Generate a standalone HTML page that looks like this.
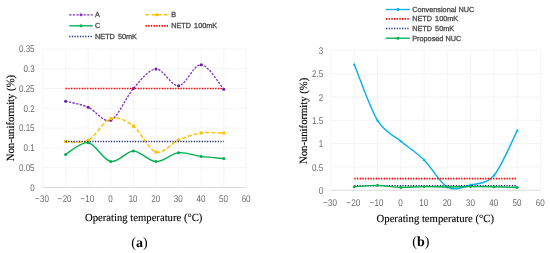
<!DOCTYPE html><html><head><meta charset="utf-8"><style>html,body{margin:0;padding:0;background:#fff;width:550px;height:253px;overflow:hidden}svg{display:block;text-rendering:geometricPrecision}.tk{font-family:"Liberation Sans",sans-serif;font-size:9.8px;fill:#6A6A6A;stroke:#6A6A6A;stroke-width:0px}.lg{font-family:"Liberation Sans",sans-serif;font-size:7.3px;fill:#4a4a4a;stroke:#4a4a4a;stroke-width:0.3px}.ax{font-family:"Liberation Serif",serif;font-size:11px;fill:#000;stroke:#000;stroke-width:0.12px}.yl{font-size:11px;stroke:#000;stroke-width:0.15px}.cap{font-family:"Liberation Serif",serif;font-size:14px;fill:#000}</style></head><body>
<svg width="550" height="253" viewBox="0 0 550 253">
<rect width="550" height="253" fill="#fff"/>
<line x1="43.00" y1="48.90" x2="43.00" y2="187.50" stroke="#F5F5F5" stroke-width="1"/>
<line x1="65.60" y1="48.90" x2="65.60" y2="187.50" stroke="#F5F5F5" stroke-width="1"/>
<line x1="88.20" y1="48.90" x2="88.20" y2="187.50" stroke="#F5F5F5" stroke-width="1"/>
<line x1="110.80" y1="48.90" x2="110.80" y2="187.50" stroke="#F5F5F5" stroke-width="1"/>
<line x1="133.40" y1="48.90" x2="133.40" y2="187.50" stroke="#F5F5F5" stroke-width="1"/>
<line x1="156.00" y1="48.90" x2="156.00" y2="187.50" stroke="#F5F5F5" stroke-width="1"/>
<line x1="178.60" y1="48.90" x2="178.60" y2="187.50" stroke="#F5F5F5" stroke-width="1"/>
<line x1="201.20" y1="48.90" x2="201.20" y2="187.50" stroke="#F5F5F5" stroke-width="1"/>
<line x1="223.80" y1="48.90" x2="223.80" y2="187.50" stroke="#F5F5F5" stroke-width="1"/>
<line x1="246.40" y1="48.90" x2="246.40" y2="187.50" stroke="#F5F5F5" stroke-width="1"/>
<line x1="43.00" y1="167.70" x2="246.40" y2="167.70" stroke="#F5F5F5" stroke-width="1"/>
<line x1="43.00" y1="147.90" x2="246.40" y2="147.90" stroke="#F5F5F5" stroke-width="1"/>
<line x1="43.00" y1="128.10" x2="246.40" y2="128.10" stroke="#F5F5F5" stroke-width="1"/>
<line x1="43.00" y1="108.30" x2="246.40" y2="108.30" stroke="#F5F5F5" stroke-width="1"/>
<line x1="43.00" y1="88.50" x2="246.40" y2="88.50" stroke="#F5F5F5" stroke-width="1"/>
<line x1="43.00" y1="68.70" x2="246.40" y2="68.70" stroke="#F5F5F5" stroke-width="1"/>
<line x1="43.00" y1="48.90" x2="246.40" y2="48.90" stroke="#F5F5F5" stroke-width="1"/>
<line x1="43.00" y1="187.50" x2="246.40" y2="187.50" stroke="#DCDCDC" stroke-width="1"/>
<text class="tk" transform="translate(34.60,190.70) scale(0.82,1)" text-anchor="end">0</text>
<text class="tk" transform="translate(34.60,170.90) scale(0.82,1)" text-anchor="end">0.05</text>
<text class="tk" transform="translate(34.60,151.10) scale(0.82,1)" text-anchor="end">0.1</text>
<text class="tk" transform="translate(34.60,131.30) scale(0.82,1)" text-anchor="end">0.15</text>
<text class="tk" transform="translate(34.60,111.50) scale(0.82,1)" text-anchor="end">0.2</text>
<text class="tk" transform="translate(34.60,91.70) scale(0.82,1)" text-anchor="end">0.25</text>
<text class="tk" transform="translate(34.60,71.90) scale(0.82,1)" text-anchor="end">0.3</text>
<text class="tk" transform="translate(34.60,52.10) scale(0.82,1)" text-anchor="end">0.35</text>
<text class="tk" transform="translate(42.00,202.10) scale(0.82,1)" text-anchor="middle">−<tspan dx="0.4">30</tspan></text>
<text class="tk" transform="translate(64.60,202.10) scale(0.82,1)" text-anchor="middle">−<tspan dx="0.4">20</tspan></text>
<text class="tk" transform="translate(87.20,202.10) scale(0.82,1)" text-anchor="middle">−<tspan dx="0.4">10</tspan></text>
<text class="tk" transform="translate(110.50,202.10) scale(0.82,1)" text-anchor="middle">0</text>
<text class="tk" transform="translate(133.10,202.10) scale(0.82,1)" text-anchor="middle">10</text>
<text class="tk" transform="translate(155.70,202.10) scale(0.82,1)" text-anchor="middle">20</text>
<text class="tk" transform="translate(178.30,202.10) scale(0.82,1)" text-anchor="middle">30</text>
<text class="tk" transform="translate(200.90,202.10) scale(0.82,1)" text-anchor="middle">40</text>
<text class="tk" transform="translate(223.50,202.10) scale(0.82,1)" text-anchor="middle">50</text>
<text class="tk" transform="translate(246.10,202.10) scale(0.82,1)" text-anchor="middle">60</text>
<line x1="331.00" y1="50.29" x2="331.00" y2="190.30" stroke="#F5F5F5" stroke-width="1"/>
<line x1="354.28" y1="50.29" x2="354.28" y2="190.30" stroke="#F5F5F5" stroke-width="1"/>
<line x1="377.56" y1="50.29" x2="377.56" y2="190.30" stroke="#F5F5F5" stroke-width="1"/>
<line x1="400.84" y1="50.29" x2="400.84" y2="190.30" stroke="#F5F5F5" stroke-width="1"/>
<line x1="424.12" y1="50.29" x2="424.12" y2="190.30" stroke="#F5F5F5" stroke-width="1"/>
<line x1="447.40" y1="50.29" x2="447.40" y2="190.30" stroke="#F5F5F5" stroke-width="1"/>
<line x1="470.68" y1="50.29" x2="470.68" y2="190.30" stroke="#F5F5F5" stroke-width="1"/>
<line x1="493.96" y1="50.29" x2="493.96" y2="190.30" stroke="#F5F5F5" stroke-width="1"/>
<line x1="517.24" y1="50.29" x2="517.24" y2="190.30" stroke="#F5F5F5" stroke-width="1"/>
<line x1="540.52" y1="50.29" x2="540.52" y2="190.30" stroke="#F5F5F5" stroke-width="1"/>
<line x1="331.00" y1="166.97" x2="540.52" y2="166.97" stroke="#F5F5F5" stroke-width="1"/>
<line x1="331.00" y1="143.63" x2="540.52" y2="143.63" stroke="#F5F5F5" stroke-width="1"/>
<line x1="331.00" y1="120.30" x2="540.52" y2="120.30" stroke="#F5F5F5" stroke-width="1"/>
<line x1="331.00" y1="96.96" x2="540.52" y2="96.96" stroke="#F5F5F5" stroke-width="1"/>
<line x1="331.00" y1="73.62" x2="540.52" y2="73.62" stroke="#F5F5F5" stroke-width="1"/>
<line x1="331.00" y1="50.29" x2="540.52" y2="50.29" stroke="#F5F5F5" stroke-width="1"/>
<line x1="331.00" y1="190.30" x2="540.52" y2="190.30" stroke="#DCDCDC" stroke-width="1"/>
<text class="tk" transform="translate(323.20,193.90) scale(0.82,1)" text-anchor="end">0</text>
<text class="tk" transform="translate(323.20,170.56) scale(0.82,1)" text-anchor="end">0.5</text>
<text class="tk" transform="translate(323.20,147.23) scale(0.82,1)" text-anchor="end">1</text>
<text class="tk" transform="translate(323.20,123.90) scale(0.82,1)" text-anchor="end">1.5</text>
<text class="tk" transform="translate(323.20,100.56) scale(0.82,1)" text-anchor="end">2</text>
<text class="tk" transform="translate(323.20,77.23) scale(0.82,1)" text-anchor="end">2.5</text>
<text class="tk" transform="translate(323.20,53.89) scale(0.82,1)" text-anchor="end">3</text>
<text class="tk" transform="translate(330.00,206.30) scale(0.82,1)" text-anchor="middle">−<tspan dx="0.4">30</tspan></text>
<text class="tk" transform="translate(353.28,206.30) scale(0.82,1)" text-anchor="middle">−<tspan dx="0.4">20</tspan></text>
<text class="tk" transform="translate(376.56,206.30) scale(0.82,1)" text-anchor="middle">−<tspan dx="0.4">10</tspan></text>
<text class="tk" transform="translate(400.54,206.30) scale(0.82,1)" text-anchor="middle">0</text>
<text class="tk" transform="translate(423.82,206.30) scale(0.82,1)" text-anchor="middle">10</text>
<text class="tk" transform="translate(447.10,206.30) scale(0.82,1)" text-anchor="middle">20</text>
<text class="tk" transform="translate(470.38,206.30) scale(0.82,1)" text-anchor="middle">30</text>
<text class="tk" transform="translate(493.66,206.30) scale(0.82,1)" text-anchor="middle">40</text>
<text class="tk" transform="translate(516.94,206.30) scale(0.82,1)" text-anchor="middle">50</text>
<text class="tk" transform="translate(540.22,206.30) scale(0.82,1)" text-anchor="middle">60</text>
<path d="M65.60 101.17 C69.37 102.19 80.67 104.14 88.20 107.31 C95.73 110.48 103.27 123.31 110.80 120.18 C118.33 117.04 125.87 97.01 133.40 88.50 C140.93 79.99 148.47 69.56 156.00 69.10 C163.53 68.63 171.07 86.45 178.60 85.73 C186.13 85.00 193.67 64.15 201.20 64.74 C208.73 65.33 220.03 85.20 223.80 89.29" fill="none" stroke="#8236C6" stroke-width="1.35" stroke-linejoin="round" stroke-dasharray="2.3 1.3"/>
<circle cx="65.60" cy="101.17" r="1.50" fill="#6A1CA6"/>
<circle cx="88.20" cy="107.31" r="1.50" fill="#6A1CA6"/>
<circle cx="110.80" cy="120.18" r="1.50" fill="#6A1CA6"/>
<circle cx="133.40" cy="88.50" r="1.50" fill="#6A1CA6"/>
<circle cx="156.00" cy="69.10" r="1.50" fill="#6A1CA6"/>
<circle cx="178.60" cy="85.73" r="1.50" fill="#6A1CA6"/>
<circle cx="201.20" cy="64.74" r="1.50" fill="#6A1CA6"/>
<circle cx="223.80" cy="89.29" r="1.50" fill="#6A1CA6"/>
<path d="M65.60 141.56 C69.37 141.33 80.67 144.01 88.20 140.18 C95.73 136.35 103.27 120.94 110.80 118.60 C118.33 116.25 125.87 120.55 133.40 126.12 C140.93 131.69 148.47 149.71 156.00 152.02 C163.53 154.33 171.07 143.15 178.60 139.98 C186.13 136.81 193.67 134.17 201.20 133.01 C208.73 131.85 220.03 133.01 223.80 133.01" fill="none" stroke="#FFC000" stroke-width="1.45" stroke-linejoin="round" stroke-dasharray="4 2"/>
<rect x="64.10" y="140.06" width="3.00" height="3.00" fill="#FFC000"/>
<rect x="86.70" y="138.68" width="3.00" height="3.00" fill="#FFC000"/>
<rect x="109.30" y="117.10" width="3.00" height="3.00" fill="#FFC000"/>
<rect x="131.90" y="124.62" width="3.00" height="3.00" fill="#FFC000"/>
<rect x="154.50" y="150.52" width="3.00" height="3.00" fill="#FFC000"/>
<rect x="177.10" y="138.48" width="3.00" height="3.00" fill="#FFC000"/>
<rect x="199.70" y="131.51" width="3.00" height="3.00" fill="#FFC000"/>
<rect x="222.30" y="131.51" width="3.00" height="3.00" fill="#FFC000"/>
<path d="M65.60 154.39 C69.37 152.45 80.67 141.55 88.20 142.75 C95.73 143.95 103.27 160.22 110.80 161.60 C118.33 162.99 125.87 151.07 133.40 151.07 C140.93 151.07 148.47 161.34 156.00 161.60 C163.53 161.87 171.07 153.52 178.60 152.65 C186.13 151.79 193.67 155.42 201.20 156.41 C208.73 157.40 220.03 158.23 223.80 158.59" fill="none" stroke="#00B050" stroke-width="1.35" stroke-linejoin="round"/>
<circle cx="65.60" cy="154.39" r="1.50" fill="#00B050"/>
<circle cx="88.20" cy="142.75" r="1.50" fill="#00B050"/>
<circle cx="110.80" cy="161.60" r="1.50" fill="#00B050"/>
<circle cx="133.40" cy="151.07" r="1.50" fill="#00B050"/>
<circle cx="156.00" cy="161.60" r="1.50" fill="#00B050"/>
<circle cx="178.60" cy="152.65" r="1.50" fill="#00B050"/>
<circle cx="201.20" cy="156.41" r="1.50" fill="#00B050"/>
<circle cx="223.80" cy="158.59" r="1.50" fill="#00B050"/>
<line x1="65.60" y1="88.50" x2="223.80" y2="88.50" stroke="#FF0000" stroke-width="1.60" stroke-dasharray="1.4 1.27"/>
<line x1="65.60" y1="141.56" x2="223.80" y2="141.56" stroke="#1A2A7A" stroke-width="1.50" stroke-dasharray="1.2 1.47"/>
<path d="M354.28 64.52 C358.16 73.85 369.80 107.69 377.56 120.48 C385.32 133.28 393.08 134.72 400.84 141.30 C408.60 147.88 416.36 152.34 424.12 159.96 C431.88 167.59 439.64 182.86 447.40 187.03 C455.16 191.20 462.92 186.92 470.68 184.98 C478.44 183.04 486.20 184.44 493.96 175.37 C501.72 166.30 513.36 138.03 517.24 130.56" fill="none" stroke="#00B0F0" stroke-width="1.40" stroke-linejoin="round"/>
<path d="M354.28 62.83L355.84 65.56L352.72 65.56Z" fill="#00B0F0"/>
<path d="M377.56 118.79L379.12 121.52L376.00 121.52Z" fill="#00B0F0"/>
<path d="M400.84 139.61L402.40 142.34L399.28 142.34Z" fill="#00B0F0"/>
<path d="M424.12 158.27L425.68 161.00L422.56 161.00Z" fill="#00B0F0"/>
<path d="M447.40 185.34L448.96 188.07L445.84 188.07Z" fill="#00B0F0"/>
<path d="M470.68 183.29L472.24 186.02L469.12 186.02Z" fill="#00B0F0"/>
<path d="M493.96 173.68L495.52 176.41L492.40 176.41Z" fill="#00B0F0"/>
<path d="M517.24 128.87L518.80 131.60L515.68 131.60Z" fill="#00B0F0"/>
<line x1="354.28" y1="178.63" x2="517.24" y2="178.63" stroke="#FF0000" stroke-width="1.60" stroke-dasharray="1.4 1.27"/>
<line x1="354.28" y1="185.63" x2="517.24" y2="185.63" stroke="#1A2A7A" stroke-width="1.50" stroke-dasharray="1.2 1.47"/>
<path d="M354.28 186.80 C358.16 186.55 369.80 185.19 377.56 185.31 C385.32 185.42 393.08 187.29 400.84 187.50 C408.60 187.71 416.36 186.64 424.12 186.57 C431.88 186.49 439.64 187.03 447.40 187.03 C455.16 187.03 462.92 186.61 470.68 186.57 C478.44 186.53 486.20 186.64 493.96 186.80 C501.72 186.96 513.36 187.38 517.24 187.50" fill="none" stroke="#00B050" stroke-width="1.35" stroke-linejoin="round"/>
<circle cx="354.28" cy="186.80" r="1.40" fill="#00B050"/>
<circle cx="377.56" cy="185.31" r="1.40" fill="#00B050"/>
<circle cx="400.84" cy="187.50" r="1.40" fill="#00B050"/>
<circle cx="424.12" cy="186.57" r="1.40" fill="#00B050"/>
<circle cx="447.40" cy="187.03" r="1.40" fill="#00B050"/>
<circle cx="470.68" cy="186.57" r="1.40" fill="#00B050"/>
<circle cx="493.96" cy="186.80" r="1.40" fill="#00B050"/>
<circle cx="517.24" cy="187.50" r="1.40" fill="#00B050"/>
<text class="ax" x="85" y="220.6" textLength="117.4" lengthAdjust="spacingAndGlyphs">Operating temperature (°C)</text>
<text class="ax" x="376.6" y="221.8" textLength="117.4" lengthAdjust="spacingAndGlyphs">Operating temperature (°C)</text>
<text class="ax yl" transform="translate(14.4,161.2) rotate(-90)" x="0" y="0" textLength="86.3" lengthAdjust="spacingAndGlyphs">Non-uniformity (%)</text>
<text class="ax yl" transform="translate(306.6,164) rotate(-90)" x="0" y="0" textLength="86.3" lengthAdjust="spacingAndGlyphs">Non-uniformity (%)</text>
<text class="cap" x="139.5" y="246.5" text-anchor="middle">(<tspan font-weight="bold">a</tspan>)</text>
<text class="cap" x="420.9" y="245.8" text-anchor="middle">(<tspan font-weight="bold">b</tspan>)</text>
<line x1="69.20" y1="14.80" x2="92.80" y2="14.80" stroke="#8236C6" stroke-width="1.35" stroke-dasharray="2.3 1.3"/>
<circle cx="81.00" cy="14.80" r="1.50" fill="#8236C6"/>
<text class="lg" x="95.00" y="17.30">A</text>
<line x1="69.20" y1="25.80" x2="92.80" y2="25.80" stroke="#00B050" stroke-width="1.35"/>
<circle cx="81.00" cy="25.80" r="1.50" fill="#00B050"/>
<text class="lg" x="95.00" y="28.30">C</text>
<line x1="69.20" y1="36.50" x2="92.80" y2="36.50" stroke="#1A2A7A" stroke-width="1.50" stroke-dasharray="1.2 1.47"/>
<text class="lg" x="95.00" y="39.00">NETD<tspan dx="1"> </tspan>50mK</text>
<line x1="145.50" y1="14.80" x2="168.00" y2="14.80" stroke="#FFC000" stroke-width="1.60" stroke-dasharray="3.3 2.9"/>
<rect x="155.35" y="13.40" width="2.80" height="2.80" fill="#FFC000"/>
<text class="lg" x="171.20" y="17.30">B</text>
<line x1="145.50" y1="25.80" x2="168.00" y2="25.80" stroke="#FF0000" stroke-width="1.70" stroke-dasharray="1.4 1.27"/>
<text class="lg" x="171.20" y="28.30">NETD<tspan dx="1"> </tspan>100mK</text>
<line x1="386.00" y1="9.50" x2="409.80" y2="9.50" stroke="#00B0F0" stroke-width="1.35"/>
<circle cx="397.90" cy="9.50" r="1.50" fill="#00B0F0"/>
<text class="lg" x="412.20" y="12.00">Convensional NUC</text>
<line x1="386.00" y1="18.90" x2="409.80" y2="18.90" stroke="#FF0000" stroke-width="1.70" stroke-dasharray="1.4 1.27"/>
<text class="lg" x="412.20" y="21.40">NETD<tspan dx="1"> </tspan>100mK</text>
<line x1="386.00" y1="28.60" x2="409.80" y2="28.60" stroke="#1A2A7A" stroke-width="1.50" stroke-dasharray="1.2 1.47"/>
<text class="lg" x="412.20" y="31.10">NETD<tspan dx="1"> </tspan>50mK</text>
<line x1="386.00" y1="38.20" x2="409.80" y2="38.20" stroke="#00B050" stroke-width="1.35"/>
<circle cx="397.90" cy="38.20" r="1.50" fill="#00B050"/>
<text class="lg" x="412.20" y="40.70">Proposed NUC</text>
</svg></body></html>
